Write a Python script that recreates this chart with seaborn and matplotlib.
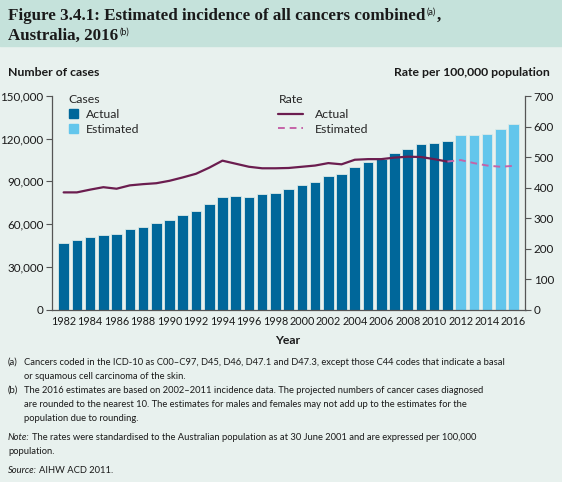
import matplotlib
matplotlib.use("Agg")
import matplotlib.pyplot as plt
import matplotlib.patches as mpatches
from matplotlib.lines import Line2D
from matplotlib.ticker import FuncFormatter, MultipleLocator
import pandas as pd
import seaborn as sns

years = list(range(1982, 2017))
cases = [46900, 48500, 50900, 52500, 53200, 56300, 58100, 60500, 62800, 66100,
         69100, 74100, 78700, 79400, 78700, 81100, 81800, 84400, 87400, 89800,
         93700, 95400, 100100, 103400, 105900, 109900, 113000, 116000, 117000, 118600,
         122600, 122600, 123300, 126600, 130500]
case_type = ["Actual"] * 30 + ["Estimated"] * 5
rate_years_actual = list(range(1982, 2012))
rate_actual = [384, 384, 393, 401, 396, 407, 411, 414, 422, 433,
               445, 465, 488, 478, 468, 463, 463, 464, 468, 472,
               480, 476, 491, 493, 493, 498, 501, 500, 493, 485]
rate_years_est = list(range(2011, 2017))
rate_est = [485, 490, 480, 472, 468, 471]

BG = "#e8f1ee"
BAND = "#c5e2db"
DARK = "#00679a"
LIGHT = "#63c6ec"
LINE = "#6b1d4f"
DASH = "#c564a8"
TXT = "#1a1a1a"

sns.set_theme(style="white")
plt.rcParams["font.family"] = ["Lato", "DejaVu Sans"]

cases_df = pd.DataFrame({"year": years, "cases": cases, "type": case_type})
rate_a = pd.DataFrame({"year": rate_years_actual, "rate": rate_actual})
rate_e = pd.DataFrame({"year": rate_years_est, "rate": rate_est})

fig = plt.figure(figsize=(5.62, 4.82), dpi=100)
fig.patch.set_facecolor(BG)
fig.patches.append(mpatches.Rectangle((0, 1 - 46 / 482), 1, 46 / 482,
                                      transform=fig.transFigure, color=BAND, zorder=0))

ax = fig.add_axes([52 / 562, 1 - 309.5 / 482, (525.5 - 52) / 562, (309.5 - 96) / 482])
ax.set_facecolor(BG)
sns.barplot(data=cases_df, x="year", y="cases", hue="type", native_scale=True,
            palette={"Actual": DARK, "Estimated": LIGHT}, dodge=False, saturation=1,
            width=0.8, edgecolor="#dceae8", linewidth=0.6, legend=False, ax=ax)
ax.set_xlim(1981.12, 2016.9)
ax.set_ylim(0, 150000)
ax.yaxis.set_major_locator(MultipleLocator(30000))
ax.yaxis.set_major_formatter(FuncFormatter(lambda v, p: f"{int(v):,}"))
ax.set_xticks(years[::2])
ax.set_xticklabels([str(y) for y in years[::2]])
ax.tick_params(axis="x", length=0, pad=5, labelsize=7.8, labelcolor=TXT)
ax.tick_params(axis="y", length=4, width=0.8, pad=2, labelsize=8.4, left=True,
               colors="#555555", labelcolor=TXT, direction="out")
ax.set_xlabel("")
ax.set_ylabel("")
for s in ["top", "right"]:
    ax.spines[s].set_visible(False)
for s in ["left", "bottom"]:
    ax.spines[s].set_color("#555555")
    ax.spines[s].set_linewidth(0.9)

ax2 = ax.twinx()
sns.lineplot(data=rate_a, x="year", y="rate", color=LINE, lw=1.6, ax=ax2)
sns.lineplot(data=rate_e, x="year", y="rate", color=DASH, lw=1.4, ax=ax2,
             linestyle=(0, (3.5, 2.5)))
ax2.set_ylim(0, 700)
ax2.yaxis.set_major_locator(MultipleLocator(100))
ax2.tick_params(axis="y", length=4, width=0.8, pad=2, labelsize=8.4, right=True,
                colors="#555555", labelcolor=TXT, direction="out")
ax2.set_ylabel("")
ax2.set_xlabel("")
for s in ["top", "left", "bottom"]:
    ax2.spines[s].set_visible(False)
ax2.spines["right"].set_color("#555555")
ax2.spines["right"].set_linewidth(0.9)

# legends
h_cases = [mpatches.Patch(color=DARK, label="Actual"),
           mpatches.Patch(color=LIGHT, label="Estimated")]
ax.legend(handles=h_cases, title="Cases", loc="upper left",
          bbox_to_anchor=(0.012, 1.06), frameon=False, fontsize=8.8,
          title_fontsize=8.8, handlelength=0.8, handleheight=0.8,
          handletextpad=0.6, labelspacing=0.3, alignment="left")
h_rate = [Line2D([], [], color=LINE, lw=1.6, label="Actual"),
          Line2D([], [], color=DASH, lw=1.4, linestyle=(0, (3.5, 2.5)), label="Estimated")]
ax2.legend(handles=h_rate, title="Rate", loc="upper left",
           bbox_to_anchor=(0.455, 1.06), frameon=False, fontsize=8.8,
           title_fontsize=8.8, handlelength=2.0, handletextpad=1.0,
           labelspacing=0.3, alignment="left")

fig.canvas.draw()
r = fig.canvas.get_renderer()


def fit_size(text, family, weight, target_px, base=10.0):
    t = fig.text(0, 0, text, size=base, family=family, weight=weight)
    w = t.get_window_extent(r).width
    t.remove()
    return base * target_px / w


# titles and headers
title_size = fit_size("Figure 3.4.1: Estimated incidence of all cancers combined",
                      "Liberation Serif", "bold", 420)
title_font = dict(family="Liberation Serif", weight="bold", size=title_size, color=TXT)
t1 = fig.text(8 / 562, 1 - 20 / 482, "Figure 3.4.1: Estimated incidence of all cancers combined",
              va="baseline", ha="left", **title_font)
t2 = fig.text(8 / 562, 1 - 40 / 482, "Australia, 2016", va="baseline", ha="left", **title_font)
for t, sup, tail in [(t1, "(a)", ","), (t2, "(b)", "")]:
    bb = t.get_window_extent(r)
    x0 = bb.x1 / fig.bbox.width + 0.002
    y0 = t.get_position()[1] + 5 / 482
    s = fig.text(x0, y0, sup, va="baseline", ha="left", size=6.5, color=TXT)
    if tail:
        sb = s.get_window_extent(r)
        fig.text(sb.x1 / fig.bbox.width + 0.001, t.get_position()[1], tail,
                 va="baseline", ha="left", **title_font)

fig.text(8 / 562, 1 - 76 / 482, "Number of cases", weight="bold", size=8.8,
         va="baseline", ha="left", color=TXT)
fig.text(550 / 562, 1 - 76 / 482, "Rate per 100,000 population", weight="bold", size=8.8,
         va="baseline", ha="right", color=TXT)
fig.text(288 / 562, 1 - 344 / 482, "Year", weight="bold", size=8.8,
         va="baseline", ha="center", color=TXT)

line_a = ("Cancers coded in the ICD-10 as C00\u2013C97, D45, D46, D47.1 and D47.3, "
          "except those C44 codes that indicate a basal")
fsize = fit_size(line_a, ["Lato", "DejaVu Sans"], "normal", 484)
fn = dict(size=fsize, va="baseline", ha="left", color=TXT)
notes = [
    (8, 365, "(a)"),
    (24, 365, line_a),
    (24, 379, "or squamous cell carcinoma of the skin."),
    (8, 393, "(b)"),
    (24, 393, "The 2016 estimates are based on 2002\u20132011 incidence data. The projected numbers of cancer cases diagnosed"),
    (24, 407, "are rounded to the nearest 10. The estimates for males and females may not add up to the estimates for the"),
    (24, 421, "population due to rounding."),
]
for x, y, s in notes:
    fig.text(x / 562, 1 - y / 482, s, **fn)
nt = fig.text(8 / 562, 1 - 440 / 482, "Note:", style="italic", **fn)
nb = nt.get_window_extent(r)
fig.text(nb.x1 / 562 + 0.004, 1 - 440 / 482,
         "The rates were standardised to the Australian population as at 30 June 2001 and are expressed per 100,000", **fn)
fig.text(8 / 562, 1 - 454 / 482, "population.", **fn)
st = fig.text(8 / 562, 1 - 473 / 482, "Source:", style="italic", **fn)
sb = st.get_window_extent(r)
fig.text(sb.x1 / 562 + 0.004, 1 - 473 / 482, "AIHW ACD 2011.", **fn)

fig.savefig("out.png", dpi=100, facecolor=BG)
